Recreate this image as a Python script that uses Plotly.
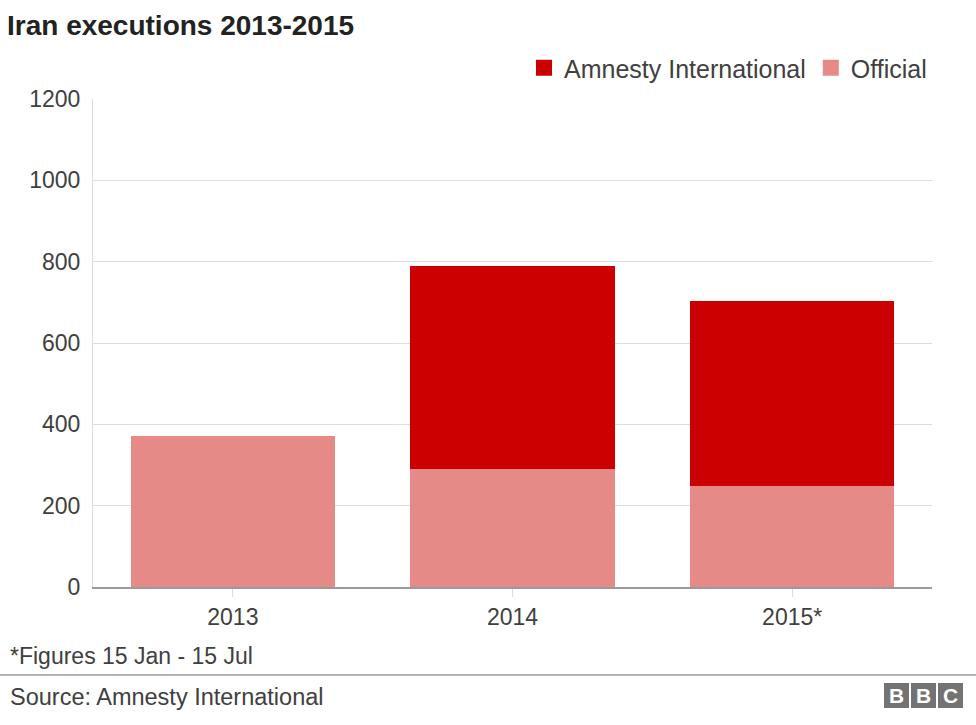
import plotly.graph_objects as go

years = ["2013", "2014", "2015*"]
official = [371, 290, 248]
amnesty_extra = [0, 499, 455]
y_ticks = [0, 200, 400, 600, 800, 1000, 1200]

W, H = 976, 725
L, R, T, B = 93, 44, 99, 138
pw, ph = W - L - R, H - T - B

def px(x):
    return (x - L) / pw

def py(y):
    return (H - B - y) / ph

FONT = "Liberation Sans, Arial, sans-serif"
C_AMN = "#CC0000"
C_OFF = "#E68A87"

fig = go.Figure()
fig.add_trace(go.Bar(x=years, y=official, name="Official", legendgroup="off", showlegend=False,
                     marker=dict(color=C_OFF, line=dict(width=0))))
fig.add_trace(go.Bar(x=years, y=amnesty_extra, name="Amnesty International", legendgroup="amn", showlegend=False,
                     marker=dict(color=C_AMN, line=dict(width=0))))
# legend entries with larger square swatches
fig.add_trace(go.Scatter(x=[None], y=[None], mode="markers", name="Amnesty International", legendgroup="amn",
                         marker=dict(symbol="square", size=16, color=C_AMN)))
fig.add_trace(go.Scatter(x=[None], y=[None], mode="markers", name="Official", legendgroup="off",
                         marker=dict(symbol="square", size=16, color=C_OFF)))

fig.update_layout(
    width=W, height=H,
    margin=dict(l=L, r=R, t=T, b=B),
    barmode="stack", bargap=0.27,
    plot_bgcolor="white", paper_bgcolor="white",
    font=dict(family=FONT, size=23, color="#404040"),
    title=dict(text="<b>Iran executions 2013-2015</b>", font=dict(size=28, color="#222222", family=FONT),
               xref="container", x=7 / W, xanchor="left", yref="container", y=1 - 25 / H, yanchor="middle"),
    legend=dict(orientation="h", traceorder="normal", xanchor="right", x=1.0, yanchor="middle", y=py(68),
                font=dict(size=25, color="#404040"), bgcolor="rgba(0,0,0,0)", itemsizing="trace"),
    xaxis=dict(showgrid=False, showline=True, linecolor="#9a9a9a", linewidth=2,
               ticks="outside", ticklen=8, tickcolor="#dddddd", tickwidth=1,
               tickfont=dict(size=23, color="#404040")),
    yaxis=dict(range=[0, 1200], tickvals=y_ticks, showgrid=True,
               gridcolor="#dddddd", gridwidth=1, showline=True, linecolor="#dddddd", linewidth=1,
               zeroline=False, ticks="", ticklabelstandoff=7, tickfont=dict(size=23, color="#404040")),
    showlegend=True,
)

fig.add_annotation(text="*Figures 15 Jan - 15 Jul", xref="paper", yref="paper", x=px(8), y=py(656),
                   xanchor="left", yanchor="middle", showarrow=False, font=dict(size=23, color="#404040"))
fig.add_annotation(text="Source: Amnesty International", xref="paper", yref="paper", x=px(8), y=py(697),
                   xanchor="left", yanchor="middle", showarrow=False, font=dict(size=23.5, color="#404040"))
fig.add_shape(type="line", xref="paper", yref="paper", x0=px(0), x1=px(976), y0=py(675), y1=py(675),
              line=dict(color="#999999", width=1.5))

for i, letter in enumerate("BBC"):
    x0 = 884 + i * 27
    fig.add_shape(type="rect", xref="paper", yref="paper", x0=px(x0), x1=px(x0 + 25), y0=py(708), y1=py(683),
                  fillcolor="#737373", line=dict(width=0))
    fig.add_annotation(text="<b>%s</b>" % letter, xref="paper", yref="paper", x=px(x0 + 12.5), y=py(695.5),
                       xanchor="center", yanchor="middle", showarrow=False,
                       font=dict(size=21, color="white", family=FONT))

fig.write_html("out.html", config={"displayModeBar": False},
               post_script="document.body.style.margin='0';document.body.style.overflow='hidden';")
